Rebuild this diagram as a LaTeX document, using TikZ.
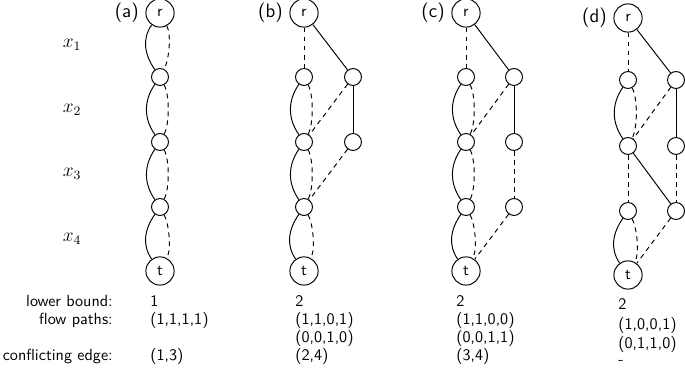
\documentclass[tikz,border=0pt]{standalone}
\usepackage{amsmath, amssymb}
\usepackage{tikz}
\usetikzlibrary{positioning}
\tikzset{
  bdterm/.style={circle, draw, line width=0.6pt, minimum size=17.5pt, inner sep=0pt, font=\sffamily},
  bdnode/.style={circle, draw, line width=0.6pt, minimum size=10.5pt, inner sep=0pt},
  bdhi/.style={line width=0.6pt},
  bdlo/.style={line width=0.6pt, dash pattern=on 3pt off 2.6pt},
  bdhic/.style={bdhi, out=-125, in=125},
  bdloc/.style={bdlo, out=-62, in=62, looseness=0.6},
  bdtag/.style={font=\sffamily\large, inner sep=0pt},
  bdvar/.style={font=\large, inner sep=0pt},
  bdkey/.style={font=\sffamily, anchor=mid east, inner sep=0pt},
  bdval/.style={font=\sffamily, anchor=mid west, inner sep=0pt},
}

\begin{document}
\begin{tikzpicture}[x=0.62pt, y=-0.62pt]
  \useasboundingbox (0,0) rectangle (685,373);
  % variables
  \node[bdvar] (x1) at (72,45) {$x_1$};
  \node[bdvar] (x2) at (72,110) {$x_2$};
  \node[bdvar] (x3) at (72,174) {$x_3$};
  \node[bdvar] (x4) at (72,239) {$x_4$};
  % (a)
  \node[bdterm] (ra) at (160,13) {r};
  \node[bdnode] (a1) at (160,77) {};
  \node[bdnode] (a2) at (160,142) {};
  \node[bdnode] (a3) at (160,207) {};
  \node[bdterm] (ta) at (160,271) {t};
  \node[bdtag, left=4pt of ra] (taga) {(a)};
  \draw[bdhic] (ra) to (a1); \draw[bdloc] (ra) to (a1);
  \draw[bdhic] (a1) to (a2); \draw[bdloc] (a1) to (a2);
  \draw[bdhic] (a2) to (a3); \draw[bdloc] (a2) to (a3);
  \draw[bdhic] (a3) to (ta); \draw[bdloc] (a3) to (ta);
  % (b)
  \node[bdterm] (rb) at (304,13) {r};
  \node[bdnode] (bl1) at (304,77) {};
  \node[bdnode] (bl2) at (304,142) {};
  \node[bdnode] (bl3) at (304,207) {};
  \node[bdterm] (tb) at (304,271) {t};
  \node[bdnode] (br1) at (353,77) {};
  \node[bdnode] (br2) at (353,142) {};
  \node[bdtag, left=4pt of rb] (tagb) {(b)};
  \draw[bdlo] (rb) -- (bl1); \draw[bdhi] (rb) -- (br1);
  \draw[bdhic] (bl1) to (bl2); \draw[bdloc] (bl1) to (bl2);
  \draw[bdlo] (br1) -- (bl2); \draw[bdhi] (br1) -- (br2);
  \draw[bdhic] (bl2) to (bl3); \draw[bdloc] (bl2) to (bl3);
  \draw[bdlo] (br2) -- (bl3);
  \draw[bdhic] (bl3) to (tb); \draw[bdloc] (bl3) to (tb);
  % (c)
  \node[bdterm] (rc) at (466,13) {r};
  \node[bdnode] (cl1) at (466,77) {};
  \node[bdnode] (cl2) at (466,142) {};
  \node[bdnode] (cl3) at (466,207) {};
  \node[bdterm] (tc) at (466,271) {t};
  \node[bdnode] (cr1) at (514,77) {};
  \node[bdnode] (cr2) at (514,142) {};
  \node[bdnode] (cr3) at (514,207) {};
  \node[bdtag, left=4pt of rc] (tagc) {(c)};
  \draw[bdlo] (rc) -- (cl1); \draw[bdhi] (rc) -- (cr1);
  \draw[bdhic] (cl1) to (cl2); \draw[bdloc] (cl1) to (cl2);
  \draw[bdlo] (cr1) -- (cl2); \draw[bdhi] (cr1) -- (cr2);
  \draw[bdhic] (cl2) to (cl3); \draw[bdloc] (cl2) to (cl3);
  \draw[bdlo] (cr2) -- (cr3);
  \draw[bdhic] (cl3) to (tc); \draw[bdloc] (cl3) to (tc);
  \draw[bdlo] (cr3) -- (tc);
  % (d)
  \node[bdterm] (rd) at (628,18) {r};
  \node[bdnode] (dl1) at (628,80) {};
  \node[bdnode] (dl2) at (628,146) {};
  \node[bdnode] (dl3) at (628,211) {};
  \node[bdterm] (td) at (628,275) {t};
  \node[bdnode] (dr1) at (676,80) {};
  \node[bdnode] (dr2) at (676,146) {};
  \node[bdnode] (dr3) at (676,211) {};
  \node[bdtag, left=4pt of rd] (tagd) {(d)};
  \draw[bdlo] (rd) -- (dl1); \draw[bdhi] (rd) -- (dr1);
  \draw[bdhic] (dl1) to (dl2); \draw[bdloc] (dl1) to (dl2);
  \draw[bdlo] (dr1) -- (dl2); \draw[bdhi] (dr1) -- (dr2);
  \draw[bdlo] (dl2) -- (dl3); \draw[bdhi] (dl2) -- (dr3);
  \draw[bdlo] (dr2) -- (dr3);
  \draw[bdhic] (dl3) to (td); \draw[bdloc] (dl3) to (td);
  \draw[bdlo] (dr3) -- (td);
  % table
  \node[bdkey] (klb) at (113,303) {lower bound:};
  \node[bdkey] (kfp) at (113,321) {flow paths:};
  \node[bdkey] (kce) at (113,357) {conflicting edge:};
  \node[bdval] (alb) at (150,303) {1};
  \node[bdval] (afp) at (150,321) {(1,1,1,1)};
  \node[bdval] (ace) at (150,357) {(1,3)};
  \node[bdval] (blb) at (295,303) {2};
  \node[bdval] (bfp) at (295,321) {(1,1,0,1)};
  \node[bdval] (bfq) at (295,339) {(0,0,1,0)};
  \node[bdval] (bce) at (295,357) {(2,4)};
  \node[bdval] (clb) at (456,303) {2};
  \node[bdval] (cfp) at (456,321) {(1,1,0,0)};
  \node[bdval] (cfq) at (456,339) {(0,0,1,1)};
  \node[bdval] (cce) at (456,357) {(3,4)};
  \node[bdval] (dlb) at (618,306) {2};
  \node[bdval] (dfp) at (618,326) {(1,0,0,1)};
  \node[bdval] (dfq) at (618,345) {(0,1,1,0)};
  \node[bdval] (dce) at (618,361) {-};
\end{tikzpicture}
\end{document}
